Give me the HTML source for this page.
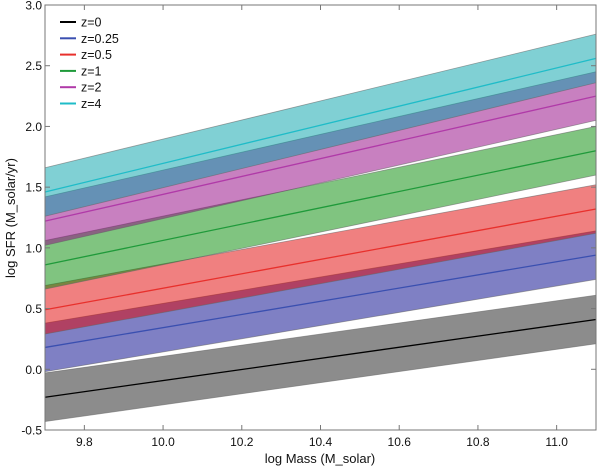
<!DOCTYPE html>
<html><head><meta charset="utf-8"><style>
body{margin:0;background:#fff;}
svg text{font-family:"Liberation Sans",sans-serif;}
</style></head><body>
<svg id="chart" width="600" height="467" xmlns="http://www.w3.org/2000/svg">
<g id="bands"></g>
<g id="axes"></g>
<g id="legend"></g>
</svg>
<script>
const seriesLabels = ["z=0","z=0.25","z=0.5","z=1","z=2","z=4"];
const centerAtLeft = [-0.23, 0.18, 0.49, 0.86, 1.22, 1.46];
const centerAtRight = [0.41, 0.94, 1.32, 1.80, 2.25, 2.56];
const bandHalfWidth = [0.2, 0.2, 0.2, 0.2, 0.2, 0.2];
const xRange = [9.7, 11.1];
const xTicks = [9.8, 10.0, 10.2, 10.4, 10.6, 10.8, 11.0];
const yTicks = [-0.5, 0.0, 0.5, 1.0, 1.5, 2.0, 2.5, 3.0];
const fillColors = ["#1a1a1a","#000189","#e10101","#018901","#910181","#01a1a9"];
const lineColors = ["#000000","#3a4fb0","#e8302c","#1f9a3a","#b03aa8","#1fbcc8"];

const L=45,R=596,T=5,B=430;
const xs=v=>L+(v-9.7)/1.4*(R-L);
const ys=v=>B-(v+0.5)/3.5*(B-T);
const NS="http://www.w3.org/2000/svg";
function mk(tag,attrs,parent){const e=document.createElementNS(NS,tag);for(const k in attrs)e.setAttribute(k,attrs[k]);parent.appendChild(e);return e;}
const bands=document.getElementById('bands'),axes=document.getElementById('axes'),legend=document.getElementById('legend');
const x0=xRange[0],x1=xRange[1];
seriesLabels.forEach((lab,i)=>{
  const h=bandHalfWidth[i];
  const p=`${xs(x0)},${ys(centerAtLeft[i]+h)} ${xs(x1)},${ys(centerAtRight[i]+h)} ${xs(x1)},${ys(centerAtRight[i]-h)} ${xs(x0)},${ys(centerAtLeft[i]-h)}`;
  const poly=mk('polygon',{points:p,fill:fillColors[i],'fill-opacity':0.5,stroke:'#666','stroke-opacity':0.6,'stroke-width':0.8},bands);
  
  
  const ln=mk('line',{x1:xs(x0),y1:ys(centerAtLeft[i]),x2:xs(x1),y2:ys(centerAtRight[i]),stroke:lineColors[i],'stroke-width':1.3},bands);
  
  
  const ly=22+i*16.3;
  const ll=mk('line',{x1:60,y1:ly,x2:76,y2:ly,stroke:lineColors[i],'stroke-width':2},legend);
  
  
  const lt=mk('text',{x:81,y:ly+4.5,'font-size':12.5,fill:'#111'},legend);
  lt.textContent=lab;
  
  
});
const frame=mk('rect',{x:L,y:T,width:R-L,height:B-T,fill:'none',stroke:'#777','stroke-width':1},axes);


xTicks.forEach(v=>{
  const x=xs(v);
  mk('line',{x1:x,y1:B,x2:x,y2:B-5,stroke:'#777'},axes);
  mk('line',{x1:x,y1:T,x2:x,y2:T+5,stroke:'#777'},axes);
  const t=mk('text',{x:x,y:446,'font-size':12,'text-anchor':'middle',fill:'#111'},axes);
  t.textContent=v.toFixed(1);
  
  
});
yTicks.forEach(v=>{
  const y=ys(v);
  mk('line',{x1:L,y1:y,x2:L+5,y2:y,stroke:'#777'},axes);
  mk('line',{x1:R,y1:y,x2:R-5,y2:y,stroke:'#777'},axes);
  const t=mk('text',{x:42,y:y+4.5,'font-size':12,'text-anchor':'end',fill:'#111'},axes);
  t.textContent=v.toFixed(1);
  
  
});
const xt=mk('text',{x:320,y:463,'font-size':13,'text-anchor':'middle',fill:'#111'},axes);
xt.textContent='log Mass (M_solar)';


const yt=mk('text',{x:0,y:0,'font-size':13,'text-anchor':'middle',fill:'#111',transform:'translate(15,218) rotate(-90)'},axes);
yt.textContent='log SFR (M_solar/yr)';


</script>
</body></html>
